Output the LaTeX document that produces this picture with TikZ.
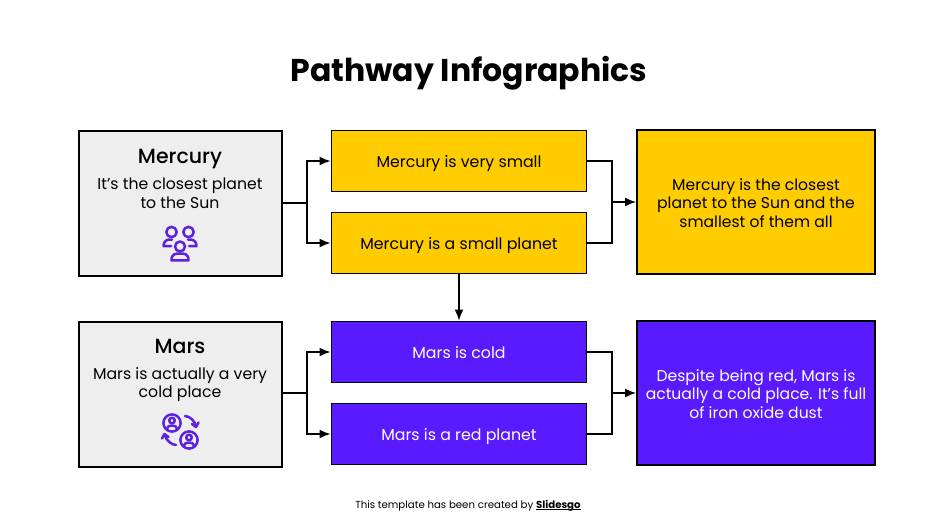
\documentclass[tikz,border=0pt]{standalone}
\usepackage{fontspec}
\setmainfont{Poppins}
\newfontfamily\midweight{Poppins Medium}
\usepackage{xcolor}
\usetikzlibrary{arrows.meta}
\definecolor{sunY}{HTML}{FFCC00}
\definecolor{marsP}{HTML}{5A1AFF}
\definecolor{iconP}{HTML}{5B22E0}
\definecolor{paleG}{HTML}{EEEEEE}
\newcommand{\textstrut}{\rule[-5pt]{0pt}{22pt}}
\tikzset{
  card/.style={draw=black, line width=1.9pt, anchor=north west, inner sep=0pt, align=center},
  headbox/.style={card, fill=paleG, minimum width=203pt, minimum height=145pt},
  ybox/.style={card, fill=sunY, anchor=center, minimum width=255pt, minimum height=61pt, font=\fontsize{15.8}{19}\selectfont, execute at begin node=\textstrut, execute at end node=\textstrut},
  pbox/.style={ybox, fill=marsP, text=white},
  ysum/.style={card, fill=sunY, anchor=center, minimum width=238pt, minimum height=144pt},
  psum/.style={ysum, fill=marsP},
  sumtext/.style={align=center, font=\fontsize{15.6}{18.7}\selectfont},
  link/.style={line width=1.6pt, black},
  linkto/.style={link, -{Latex[length=11pt,width=9pt]}},
  iconline/.style={draw=iconP, line width=2.5pt, line cap=round, line join=round}
}
\newcommand{\shoulders}[3]{%
  \draw[iconline] (#1-#3,#2+#3*0.8) .. controls (#1-#3,#2) and (#1-#3*0.5,#2) .. (#1,#2)
    .. controls (#1+#3*0.5,#2) and (#1+#3,#2) .. (#1+#3,#2+#3*0.8) -- cycle;}
\begin{document}
\begin{tikzpicture}[x=1pt,y=-1pt]
  \useasboundingbox (0,0) rectangle (937,527);

  % --- title ---
  \node (title) at (469,73) {\fontsize{31.5}{36}\selectfont\bfseries Pathway Infographics};

  % --- Mercury row ---
  \node[headbox] (mercury) at (78,130) {};
  \node (mercurytitle) at (180,159.5) {\fontsize{20.5}{24}\midweight Mercury};
  \node[align=center, font=\fontsize{15.7}{18.5}\selectfont] (mercurytext) at (180,193.5) {It’s the closest planet\\to the Sun};
  \node[ybox] (small) at (459,161) {Mercury is very small};
  \node[ybox] (smallplanet) at (459,243) {Mercury is a small planet};
  \node[ysum] (mercurysum) at (756,202) {};
  \node[sumtext] (mercurysumtext) at (756,203) {Mercury is the closest\\planet to the Sun and the\\smallest of them all};

  % --- Mars row ---
  \node[headbox] (mars) at (78,321) {};
  \node (marstitle) at (180,346.5) {\fontsize{20.5}{24}\midweight Mars};
  \node[align=center, font=\fontsize{15.7}{18.5}\selectfont] (marstext) at (180,384.5) {Mars is actually a very\\cold place};
  \node[pbox] (cold) at (459,352) {Mars is cold};
  \node[pbox] (red) at (459,434) {Mars is a red planet};
  \node[psum] (marssum) at (756,393) {};
  \node[sumtext, text=white] (marssumtext) at (756,394) {Despite being red, Mars is\\actually a cold place. It’s full\\of iron oxide dust};

  % --- branch points ---
  \coordinate (splitA) at (307,203);
  \coordinate (joinA) at (612,202);
  \coordinate (splitB) at (307,393);
  \coordinate (joinB) at (612,393);

  % --- connectors ---
  \draw[link] (mercury.east |- splitA) -- (splitA);
  \draw[linkto] (splitA) |- (small.west);
  \draw[linkto] (splitA) |- (smallplanet.west);
  \draw[link] (small.east) -| (joinA);
  \draw[link] (smallplanet.east) -| (joinA);
  \draw[linkto] (joinA) -- (mercurysum.west |- joinA);
  \draw[linkto] (smallplanet.south) -- (cold.north);
  \draw[link] (mars.east |- splitB) -- (splitB);
  \draw[linkto] (splitB) |- (cold.west);
  \draw[linkto] (splitB) |- (red.west);
  \draw[link] (cold.east) -| (joinB);
  \draw[link] (red.east) -| (joinB);
  \draw[linkto] (joinB) -- (marssum.west |- joinB);

  % --- people icon ---
  \draw[iconline] (171.5,232) circle (5.2);
  \draw[iconline] (188.5,232) circle (5.2);
  \draw[iconline] (172,239.5) .. controls (167,239) and (163.5,241) .. (163.5,246) -- (171,246);
  \draw[iconline] (188,239.5) .. controls (193,239) and (196.5,241) .. (196.5,246) -- (189,246);
  \draw[iconline] (180,246.5) circle (5);
  \shoulders{180}{253.5}{8.5}

  % --- swap icon ---
  \draw[iconline] (172,423) circle (8.6);
  \draw[iconline] (172,420.5) circle (2.8);
  \draw[iconline] (167,428.5) .. controls (167,424.5) and (177,424.5) .. (177,428.5);
  \draw[iconline] (189,440) circle (8.6);
  \draw[iconline] (189,437.5) circle (2.8);
  \draw[iconline] (184,445.5) .. controls (184,441.5) and (194,441.5) .. (194,445.5);
  \draw[iconline] (185,416) .. controls (190,416.5) and (194,420) .. (196,426);
  \draw[iconline] (192,424) -- (196,427) -- (198.5,422.5);
  \draw[iconline] (176,445) .. controls (171,444.5) and (167,441) .. (164.5,435);
  \draw[iconline] (168.5,437) -- (164.5,434) -- (162,438.5);

  % --- footer ---
  \node (credit) at (468,505.5) {\fontsize{10.2}{12}\selectfont This template has been created by \textbf{\underline{\smash{Slidesgo}}}};
\end{tikzpicture}
\end{document}
